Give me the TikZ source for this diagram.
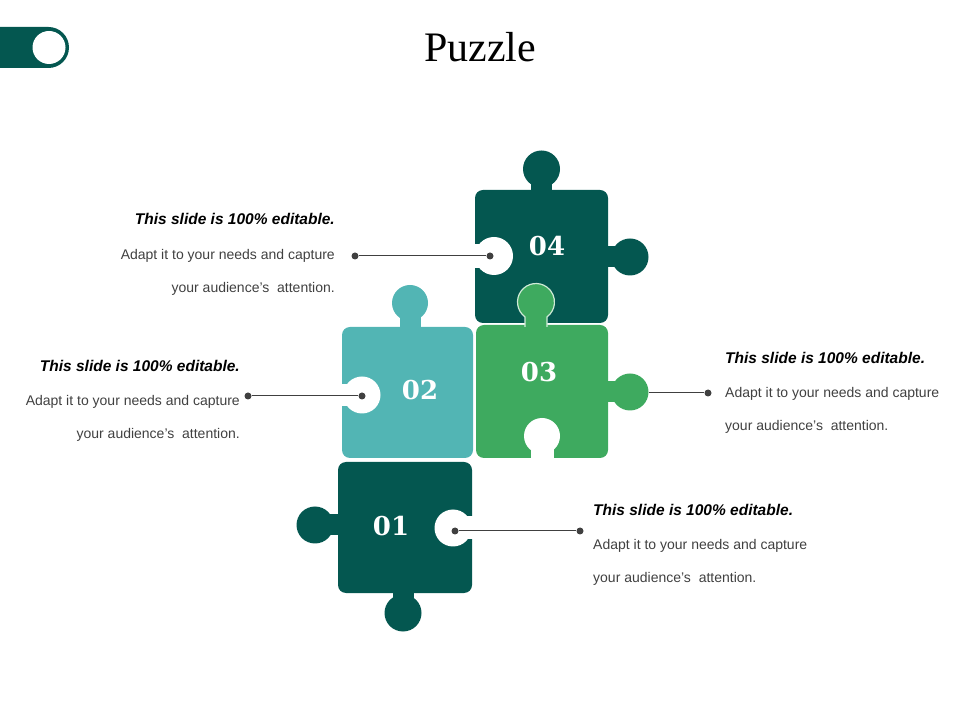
\documentclass[tikz,border=0pt]{standalone}
\usepackage{fontspec}
\setsansfont{Liberation Sans}
\newfontfamily\titlefont{Liberation Serif}
\newfontfamily\numfont{DejaVu Serif}
\usepackage{tikz}
\usetikzlibrary{positioning, calc}

\definecolor{dkgreen}{RGB}{4,87,80}
\definecolor{ltteal}{RGB}{82,181,180}
\definecolor{midgreen}{RGB}{62,170,95}
\definecolor{linegray}{RGB}{64,64,64}

\begin{document}
\begin{tikzpicture}[
  x=1pt, y=1pt,
  num/.style={font=\numfont\bfseries\fontsize{26}{28}\selectfont, text=white},
  head/.style={font=\sffamily\bfseries\itshape\fontsize{15.5}{17}\selectfont, inner sep=0},
  body/.style={font=\sffamily\fontsize{14}{16}\selectfont, text=linegray, inner sep=0},
  dot/.style={circle, fill=linegray, inner sep=0, minimum size=7},
  conn/.style={draw=linegray, line width=1}
]
  \useasboundingbox (0,0) rectangle (960,720);

  % Toggle top left
  \fill[dkgreen] (-1,652) -- (48.5,652) arc[start angle=-90, end angle=90, radius=20.5] -- (-1,693) -- cycle;
  \fill[white] (49,672.5) circle (16.5);

  % Title
  \node[font=\titlefont\fontsize{42}{44}\selectfont] (title) at (480,673) {Puzzle};

  % Piece 04
  \fill[dkgreen, rounded corners=8] (475,397) rectangle (608,530);
  \fill[dkgreen] (541.5,551) circle (18.5);
  \fill[dkgreen] (531,525) rectangle (552,551);
  \fill[dkgreen] (630,463) circle (18.5);
  \fill[dkgreen] (603,452.5) rectangle (630,473.5);
  \fill[white] (494,464) circle (19);
  \fill[white] (470,452) rectangle (494,476);
  \node[num] (n4) at (547,474) {04};

  % Piece 02
  \fill[ltteal, rounded corners=8] (342,262) rectangle (473,393);
  \fill[ltteal] (410,417) circle (18);
  \fill[ltteal] (399.5,388) rectangle (420.5,417);
  \fill[white] (362,325) circle (18.5);
  \fill[white] (337,314) rectangle (362,336);
  \node[num] (n2) at (420,330) {02};

  % Piece 03
  \fill[midgreen, rounded corners=8] (476,262) rectangle (608,395);
  \filldraw[fill=midgreen, draw=white!75!midgreen, line width=1.2]
    (525,393) -- (525,403.1) arc[start angle=233.5, end angle=-53.5, radius=18.5] -- (547,393);
  \fill[midgreen] (630,328) circle (18.5);
  \fill[midgreen] (603,317.5) rectangle (630,338.5);
  \fill[white] (542,284) circle (18);
  \fill[white] (530.5,256) rectangle (553.5,284);
  \node[num] (n3) at (539,348) {03};

  % Piece 01
  \fill[dkgreen, rounded corners=8] (338,127) rectangle (472,258);
  \fill[dkgreen] (315,195) circle (18.5);
  \fill[dkgreen] (315,184.5) rectangle (343,205.5);
  \fill[dkgreen] (403,107) circle (18.5);
  \fill[dkgreen] (392.5,107) rectangle (413.5,132);
  \fill[white] (453,192) circle (18.5);
  \fill[white] (453,180.5) rectangle (477,203.5);
  \node[num] (n1) at (391,194) {01};

  % Text for 04
  \node[head, anchor=east] (h4) at (335,501) {This slide is 100\% editable.};
  \node[body, anchor=east] (a4) at (335,464) {Adapt it to your needs and capture};
  \node[body, anchor=east] (b4) at (335,431) {your audience's~ attention.};
  \node[dot] (d4a) at (355,464) {};
  \node[dot] (d4b) at (490,464) {};
  \draw[conn] (d4a) -- (d4b);

  % Text for 02
  \node[head, anchor=east] (h2) at (240,354) {This slide is 100\% editable.};
  \node[body, anchor=east] (a2) at (240,318) {Adapt it to your needs and capture};
  \node[body, anchor=east] (b2) at (240,285) {your audience's~ attention.};
  \node[dot] (d2a) at (248,324) {};
  \node[dot] (d2b) at (362,324) {};
  \draw[conn] (d2a) -- (d2b);

  % Text for 03
  \node[head, anchor=west] (h3) at (725,362) {This slide is 100\% editable.};
  \node[body, anchor=west] (a3) at (725,326) {Adapt it to your needs and capture};
  \node[body, anchor=west] (b3) at (725,293) {your audience's~ attention.};
  \coordinate (t3) at (649,327);
  \node[dot] (d3) at (708,327) {};
  \draw[conn] (t3) -- (d3);

  % Text for 01
  \node[head, anchor=west] (h1) at (593,210) {This slide is 100\% editable.};
  \node[body, anchor=west] (a1) at (593,174) {Adapt it to your needs and capture};
  \node[body, anchor=west] (b1) at (593,141) {your audience's~ attention.};
  \node[dot] (d1a) at (455,189) {};
  \node[dot] (d1b) at (580,189) {};
  \draw[conn] (d1a) -- (d1b);
\end{tikzpicture}
\end{document}
